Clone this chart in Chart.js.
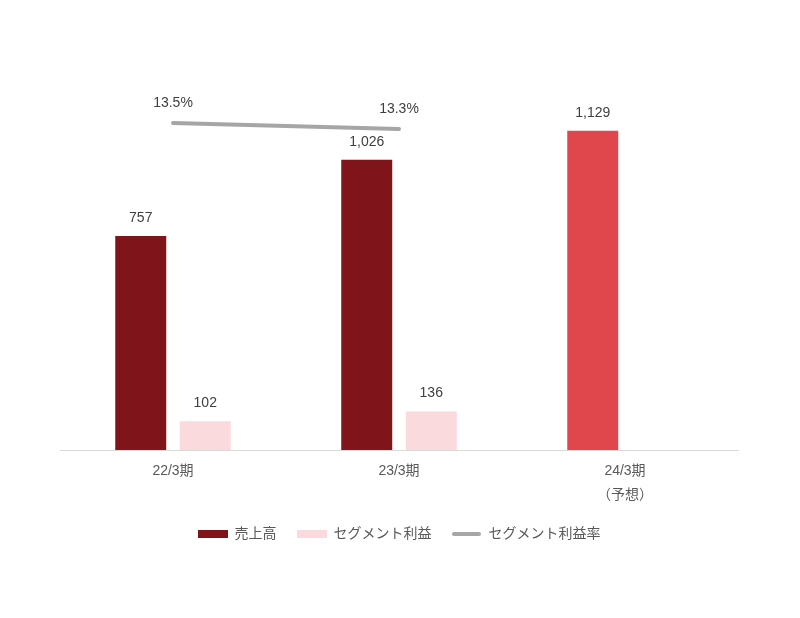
<!DOCTYPE html>
<html>
<head>
<meta charset="utf-8">
<script src="https://cdn.jsdelivr.net/npm/chart.js@4.4.1/dist/chart.umd.min.js"></script>
<style>
html,body{margin:0;padding:0;background:#fff;}
#wrap{width:800px;height:618px;position:relative;}
</style>
</head>
<body>
<div id="wrap"><canvas id="c" width="800" height="618"></canvas></div>
<script>
const categories = ['22/3期', '23/3期', ['24/3期', '（予想）']];
const sales = [757, 1026, 1129];
const segmentProfit = [102, 136, null];
const segmentMargin = [13.5, 13.3, null];
const seriesNames = ['売上高', 'セグメント利益', 'セグメント利益率'];

const FONT = '"Liberation Sans", "Noto Sans CJK JP", Arial, sans-serif';
const salesColors = ['#7f141a', '#7f141a', '#e0474c'];
const pink = '#fadadd';
const gray = '#a6a6a6';

function swatch(w, h, color, round) {
  const cv = document.createElement('canvas');
  cv.width = w; cv.height = h;
  const x = cv.getContext('2d');
  x.fillStyle = color;
  if (round) {
    x.beginPath();
    x.moveTo(h/2, 0); x.lineTo(w-h/2, 0); x.arc(w-h/2, h/2, h/2, -Math.PI/2, Math.PI/2);
    x.lineTo(h/2, h); x.arc(h/2, h/2, h/2, Math.PI/2, Math.PI*1.5); x.fill();
  } else {
    x.fillRect(0, 0, w, h);
  }
  return cv;
}
const legendIcons = [swatch(30, 8, '#7f141a'), swatch(30, 8, pink), swatch(29, 4, gray, true)];

const fmt = v => v.toLocaleString('en-US');

const labelPlugin = {
  id: 'valueLabels',
  afterDatasetsDraw(chart) {
    const ctx = chart.ctx;
    ctx.save();
    ctx.font = '14px ' + FONT;
    ctx.fillStyle = '#404040';
    ctx.textAlign = 'center';
    ctx.textBaseline = 'middle';
    chart.data.datasets.forEach((ds, i) => {
      const meta = chart.getDatasetMeta(i);
      meta.data.forEach((el, j) => {
        const v = ds.data[j];
        if (v === null || v === undefined) return;
        if (ds.type === 'line') {
          ctx.fillText(v.toFixed(1) + '%', el.x, el.y - 20);
        } else {
          ctx.fillText(fmt(v), el.x, el.y - 18);
        }
      });
    });
    ctx.restore();
  }
};

new Chart(document.getElementById('c'), {
  type: 'bar',
  data: {
    labels: categories,
    datasets: [
      {
        type: 'line', label: seriesNames[2], data: segmentMargin, yAxisID: 'y2',
        borderColor: gray, backgroundColor: gray, borderWidth: 4, pointRadius: 0,
        borderCapStyle: 'round', order: 0
      },
      { label: seriesNames[0], data: sales, backgroundColor: salesColors, yAxisID: 'y', order: 1 },
      { label: seriesNames[1], data: segmentProfit, backgroundColor: pink, yAxisID: 'y', order: 2 }
    ]
  },
  options: {
    responsive: false,
    animation: false,
    devicePixelRatio: 1,
    categoryPercentage: 0.571,
    barPercentage: 0.79,
    layout: { padding: { top: 54, left: 60, right: 62, bottom: 67 } },
    plugins: {
      tooltip: { enabled: false },
      legend: {
        position: 'bottom',
        labels: {
          font: { size: 14, family: FONT },
          color: '#595959',
          usePointStyle: true,
          pointStyleWidth: 30,
          boxHeight: 8,
          padding: 20,
          generateLabels(chart) {
            const order = [1, 2, 0];
            return order.map((di, k) => ({
              text: chart.data.datasets[di].label,
              datasetIndex: di,
              pointStyle: legendIcons[k],
              fillStyle: 'transparent',
              strokeStyle: 'transparent',
              lineWidth: 0,
              fontColor: '#595959',
              hidden: false
            }));
          }
        }
      }
    },
    scales: {
      x: {
        grid: { display: false },
        border: { display: true, color: '#d9d9d9', width: 1 },
        ticks: { color: '#595959', font: { size: 14, family: FONT, lineHeight: 1.65 }, padding: 2, maxRotation: 0 },
        afterFit(s) { s.height = 57; }
      },
      y: { display: false, min: 0, max: 1400 },
      y2: { display: false, min: 2.6, max: 15.8, position: 'right' }
    }
  },
  plugins: [labelPlugin]
});
</script>
</body>
</html>
